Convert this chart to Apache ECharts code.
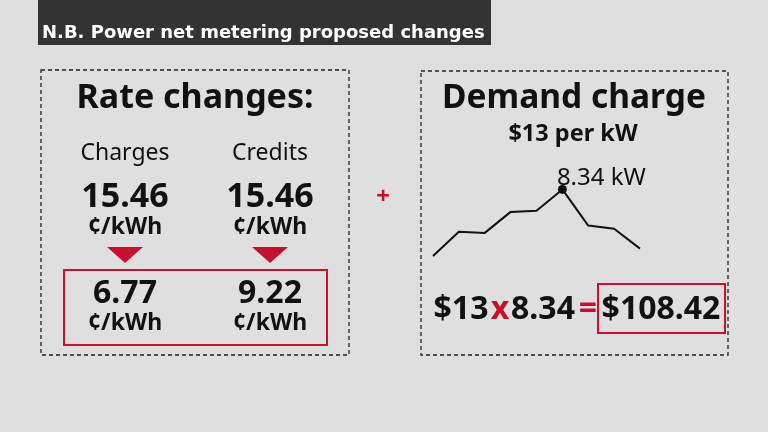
<!DOCTYPE html>
<html>
<head>
<meta charset="utf-8">
<script src="https://cdn.jsdelivr.net/npm/echarts@6/dist/echarts.min.js"></script>
<style>
  html, body { margin: 0; padding: 0; background: #dfdfdf; }
  #main { width: 768px; height: 432px; }
</style>
</head>
<body>
<div id="main"></div>
<script>
var titleText = 'N.B. Power net metering proposed changes';
var rateLabels = ['Charges', 'Credits'];
var currentRates = ['15.46', '15.46'];
var proposedRates = ['6.77', '9.22'];
var rateUnit = '¢/kWh';
var demandRate = '$13';
var peakKw = '8.34';
var demandTotal = '$108.42';
// load profile (kW), peak is the 6th point
var loadHours = ['1', '2', '3', '4', '5', '6', '7', '8', '9'];
var loadValues = [2.0, 4.3, 4.2, 6.2, 6.3, 8.34, 4.9, 4.6, 2.7];
var peakIndex = 5;

var RED = '#c8102e';
var FONT = '"Noto Sans", "Open Sans", sans-serif';

var chart = echarts.init(document.getElementById('main'));

// noto's middle sits a bit high versus the caps, nudge down
function txt(text, x, y, size, weight, color, align, family) {
    return {
        type: 'text',
        style: {
            text: text, x: x, y: y + 2.5,
            fill: color || '#111',
            font: (weight || 'normal') + ' ' + size + 'px ' + (family || FONT),
            textAlign: align || 'center',
            textVerticalAlign: 'middle'
        },
        z: 10
    };
}

function dashedBox(x, y, w, h) {
    return {
        type: 'rect',
        shape: { x: x, y: y, width: w, height: h },
        style: { fill: 'none', stroke: '#222', lineWidth: 1.3, lineDash: [4, 3] }
    };
}

function triangle(cx, top) {
    return {
        type: 'polygon',
        shape: { points: [[cx - 18, top], [cx + 18, top], [cx, top + 16]] },
        style: { fill: RED }
    };
}

var colX = [125, 270];
var graphics = [
    { type: 'rect', shape: { x: 38, y: 0, width: 453, height: 45 }, style: { fill: '#333333' } },
    txt(titleText, 42, 31, 18, 'bold', '#ffffff', 'left', '"DejaVu Sans", sans-serif'),
    dashedBox(41, 70, 308, 285),
    dashedBox(421, 71, 307, 284),
    txt('Rate changes:', 195, 96, 34, 'bold'),
    { type: 'rect', shape: { x: 64, y: 270, width: 263, height: 75 }, style: { fill: 'none', stroke: RED, lineWidth: 2 } },
    txt('+', 383, 195, 24, 'bold', RED),
    txt('Demand charge', 574, 96, 33.5, 'bold'),
    txt(demandRate + ' per kW', 573, 132, 23.5, 'bold'),
    txt(demandRate, 461, 307, 32, 'bold', '#111'),
    txt('x', 500, 307, 32, 'bold', RED),
    txt(peakKw, 543, 307, 32, 'bold', '#111'),
    txt('=', 588, 307, 32, 'bold', RED),
    txt(demandTotal, 661, 307, 32, 'bold', '#111'),
    { type: 'rect', shape: { x: 598, y: 284, width: 127, height: 49 }, style: { fill: 'none', stroke: RED, lineWidth: 2 } }
];
for (var i = 0; i < rateLabels.length; i++) {
    graphics.push(txt(rateLabels[i], colX[i], 151, 23, 'normal'));
    graphics.push(txt(currentRates[i], colX[i], 195, 34, 'bold'));
    graphics.push(txt(rateUnit, colX[i], 225, 23, 'bold'));
    graphics.push(triangle(colX[i], 247));
    graphics.push(txt(proposedRates[i], colX[i], 291, 32, 'bold'));
    graphics.push(txt(rateUnit, colX[i], 321, 23, 'bold'));
}

var lineData = loadValues.map(function (v, i) {
    if (i === peakIndex) {
        return {
            value: v,
            symbol: 'circle',
            symbolSize: 9,
            itemStyle: { color: '#111' },
            label: {
                show: true,
                formatter: peakKw + ' kW',
                position: [-1, -19],
                align: 'left',
                verticalAlign: 'top',
                fontFamily: FONT,
                fontSize: 24,
                color: '#111'
            }
        };
    }
    return { value: v, symbol: 'none' };
});

var option = {
    backgroundColor: '#dfdfdf',
    animation: false,
    grid: { left: 433, right: 128, top: 172, height: 105 },
    xAxis: { type: 'category', data: loadHours, boundaryGap: false, show: false },
    yAxis: { type: 'value', min: 0, max: 10, show: false },
    series: [{
        type: 'line',
        data: lineData,
        showSymbol: true,
        lineStyle: { color: '#111', width: 2 },
        itemStyle: { color: '#111' },
        z: 5
    }],
    graphic: graphics
};
chart.setOption(option);
</script>
</body>
</html>
